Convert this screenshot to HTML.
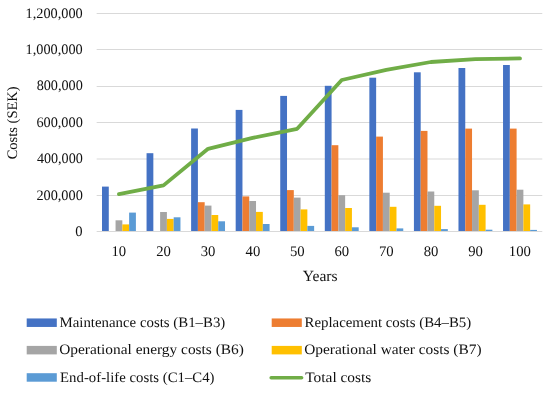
<!DOCTYPE html><html><head><meta charset="utf-8"><style>
html,body{margin:0;padding:0;background:#fff;-webkit-font-smoothing:antialiased;width:550px;height:393px;overflow:hidden}
svg{display:block;will-change:transform}
text{text-rendering:geometricPrecision;font-family:"Liberation Serif",serif;fill:#111}
</style></head><body>
<svg width="550" height="393" viewBox="0 0 550 393">
<rect width="550" height="393" fill="#fff"/>
<line x1="96.67" y1="195.50" x2="542.27" y2="195.50" stroke="#D9D9D9" stroke-width="1"/>
<line x1="96.67" y1="159.00" x2="542.27" y2="159.00" stroke="#D9D9D9" stroke-width="1"/>
<line x1="96.67" y1="122.50" x2="542.27" y2="122.50" stroke="#D9D9D9" stroke-width="1"/>
<line x1="96.67" y1="86.50" x2="542.27" y2="86.50" stroke="#D9D9D9" stroke-width="1"/>
<line x1="96.67" y1="49.50" x2="542.27" y2="49.50" stroke="#D9D9D9" stroke-width="1"/>
<line x1="96.67" y1="13.50" x2="542.27" y2="13.50" stroke="#D9D9D9" stroke-width="1"/>
<rect x="102.00" y="186.60" width="6.78" height="44.40" fill="#4472C4"/>
<rect x="115.56" y="220.30" width="6.78" height="10.70" fill="#A5A5A5"/>
<rect x="122.34" y="224.40" width="6.78" height="6.60" fill="#FFC000"/>
<rect x="129.12" y="212.60" width="6.78" height="18.40" fill="#5B9BD5"/>
<rect x="146.56" y="153.20" width="6.78" height="77.80" fill="#4472C4"/>
<rect x="160.12" y="212.00" width="6.78" height="19.00" fill="#A5A5A5"/>
<rect x="166.90" y="218.90" width="6.78" height="12.10" fill="#FFC000"/>
<rect x="173.68" y="217.30" width="6.78" height="13.70" fill="#5B9BD5"/>
<rect x="191.12" y="128.50" width="6.78" height="102.50" fill="#4472C4"/>
<rect x="197.90" y="202.20" width="6.78" height="28.80" fill="#ED7D31"/>
<rect x="204.68" y="205.60" width="6.78" height="25.40" fill="#A5A5A5"/>
<rect x="211.46" y="215.00" width="6.78" height="16.00" fill="#FFC000"/>
<rect x="218.24" y="221.30" width="6.78" height="9.70" fill="#5B9BD5"/>
<rect x="235.68" y="109.90" width="6.78" height="121.10" fill="#4472C4"/>
<rect x="242.46" y="196.40" width="6.78" height="34.60" fill="#ED7D31"/>
<rect x="249.24" y="201.00" width="6.78" height="30.00" fill="#A5A5A5"/>
<rect x="256.02" y="211.90" width="6.78" height="19.10" fill="#FFC000"/>
<rect x="262.80" y="224.00" width="6.78" height="7.00" fill="#5B9BD5"/>
<rect x="280.24" y="95.90" width="6.78" height="135.10" fill="#4472C4"/>
<rect x="287.02" y="190.10" width="6.78" height="40.90" fill="#ED7D31"/>
<rect x="293.80" y="197.60" width="6.78" height="33.40" fill="#A5A5A5"/>
<rect x="300.58" y="209.40" width="6.78" height="21.60" fill="#FFC000"/>
<rect x="307.36" y="225.90" width="6.78" height="5.10" fill="#5B9BD5"/>
<rect x="324.80" y="85.80" width="6.78" height="145.20" fill="#4472C4"/>
<rect x="331.58" y="145.20" width="6.78" height="85.80" fill="#ED7D31"/>
<rect x="338.36" y="195.20" width="6.78" height="35.80" fill="#A5A5A5"/>
<rect x="345.14" y="208.00" width="6.78" height="23.00" fill="#FFC000"/>
<rect x="351.92" y="227.30" width="6.78" height="3.70" fill="#5B9BD5"/>
<rect x="369.36" y="77.70" width="6.78" height="153.30" fill="#4472C4"/>
<rect x="376.14" y="136.60" width="6.78" height="94.40" fill="#ED7D31"/>
<rect x="382.92" y="192.70" width="6.78" height="38.30" fill="#A5A5A5"/>
<rect x="389.70" y="206.80" width="6.78" height="24.20" fill="#FFC000"/>
<rect x="396.48" y="228.40" width="6.78" height="2.60" fill="#5B9BD5"/>
<rect x="413.92" y="72.30" width="6.78" height="158.70" fill="#4472C4"/>
<rect x="420.70" y="130.90" width="6.78" height="100.10" fill="#ED7D31"/>
<rect x="427.48" y="191.50" width="6.78" height="39.50" fill="#A5A5A5"/>
<rect x="434.26" y="205.80" width="6.78" height="25.20" fill="#FFC000"/>
<rect x="441.04" y="229.10" width="6.78" height="1.90" fill="#5B9BD5"/>
<rect x="458.48" y="68.00" width="6.78" height="163.00" fill="#4472C4"/>
<rect x="465.26" y="128.60" width="6.78" height="102.40" fill="#ED7D31"/>
<rect x="472.04" y="190.30" width="6.78" height="40.70" fill="#A5A5A5"/>
<rect x="478.82" y="204.80" width="6.78" height="26.20" fill="#FFC000"/>
<rect x="485.60" y="229.70" width="6.78" height="1.30" fill="#5B9BD5"/>
<rect x="503.04" y="65.00" width="6.78" height="166.00" fill="#4472C4"/>
<rect x="509.82" y="128.60" width="6.78" height="102.40" fill="#ED7D31"/>
<rect x="516.60" y="189.70" width="6.78" height="41.30" fill="#A5A5A5"/>
<rect x="523.38" y="204.40" width="6.78" height="26.60" fill="#FFC000"/>
<rect x="530.16" y="229.90" width="6.78" height="1.10" fill="#5B9BD5"/>
<line x1="96.67" y1="231.50" x2="542.27" y2="231.50" stroke="#D9D9D9" stroke-width="1"/>
<polyline points="118.95,194.20 163.51,185.40 208.07,148.80 252.63,137.90 297.19,128.80 341.75,80.00 386.31,69.90 430.87,62.00 475.43,59.20 519.99,58.40" fill="none" stroke="#70AD47" stroke-width="3.8" stroke-linejoin="round" stroke-linecap="round"/>
<text transform="translate(75.35 236.20) scale(1.0080 1)" font-size="14.5">0</text>
<text transform="translate(36.41 199.77) scale(0.9836 1)" font-size="14.5">200,000</text>
<text transform="translate(36.91 163.34) scale(0.9730 1)" font-size="14.5">400,000</text>
<text transform="translate(36.41 126.91) scale(0.9836 1)" font-size="14.5">600,000</text>
<text transform="translate(36.66 90.48) scale(0.9783 1)" font-size="14.5">800,000</text>
<text transform="translate(25.62 54.05) scale(0.9831 1)" font-size="14.5">1,000,000</text>
<text transform="translate(25.62 17.62) scale(0.9831 1)" font-size="14.5">1,200,000</text>
<text x="111.40" y="256.40" font-size="14.7">10</text>
<text x="156.21" y="256.40" font-size="14.7">20</text>
<text x="200.77" y="256.40" font-size="14.7">30</text>
<text x="245.58" y="256.40" font-size="14.7">40</text>
<text x="289.89" y="256.40" font-size="14.7">50</text>
<text x="334.45" y="256.40" font-size="14.7">60</text>
<text x="378.88" y="256.40" font-size="14.7">70</text>
<text x="423.70" y="256.40" font-size="14.7">80</text>
<text x="468.25" y="256.40" font-size="14.7">90</text>
<text x="508.82" y="256.40" font-size="14.7">100</text>
<text transform="translate(302.75 280.60) scale(1.0074 1)" font-size="15.5">Years</text>
<text transform="translate(17.4 159.30) rotate(-90)" font-size="14.5">Costs (SEK)</text>
<rect x="26.70" y="318.45" width="30.1" height="8.5" fill="#4472C4"/>
<rect x="271.70" y="318.45" width="30.1" height="8.5" fill="#ED7D31"/>
<rect x="26.70" y="345.90" width="30.1" height="8.5" fill="#A5A5A5"/>
<rect x="271.70" y="345.90" width="30.1" height="8.5" fill="#FFC000"/>
<rect x="26.70" y="373.20" width="30.1" height="8.5" fill="#5B9BD5"/>
<line x1="271.2" y1="377.8" x2="301.6" y2="377.8" stroke="#70AD47" stroke-width="3.6" stroke-linecap="round"/>
<text transform="translate(59.48 327.10) scale(1.0320 1)" font-size="14.4">Maintenance costs (B1–B3)</text>
<text transform="translate(304.48 327.10) scale(1.0328 1)" font-size="14.4">Replacement costs (B4–B5)</text>
<text transform="translate(59.17 354.40) scale(1.0690 1)" font-size="14.4">Operational energy costs (B6)</text>
<text transform="translate(304.17 354.40) scale(1.0695 1)" font-size="14.4">Operational water costs (B7)</text>
<text transform="translate(60.09 381.60) scale(1.0278 1)" font-size="14.4">End-of-life costs (C1–C4)</text>
<text transform="translate(305.23 381.70) scale(1.0705 1)" font-size="14.4">Total costs</text>
</svg></body></html>
